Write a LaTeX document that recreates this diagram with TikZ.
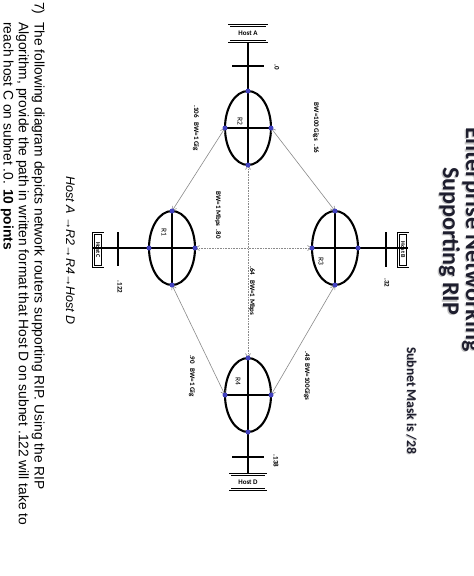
\documentclass[tikz,border=0pt]{standalone}
\usepackage{fontspec}
\setmainfont{Liberation Sans}
\newfontfamily\calfont{Carlito}
\usetikzlibrary{shapes.geometric,arrows.meta}
\definecolor{dotblue}{HTML}{4343C0}
\definecolor{linkgray}{HTML}{8A8A8A}
\definecolor{titlecol}{HTML}{1E1E2E}
\begin{document}
\begin{tikzpicture}[x=1pt,y=-1pt,
  router/.style={ellipse, draw, line width=2.1pt, minimum width=46pt, minimum height=74pt, inner sep=0pt, outer sep=0pt},
  xline/.style={line width=1.5pt},
  dot/.style={circle, fill=dotblue, inner sep=0pt, minimum size=5pt},
  link/.style={draw=linkgray, line width=0.6pt, {Straight Barb[length=4pt,width=5pt]}-{Straight Barb[length=4pt,width=5pt]}},
  dlink/.style={link, densely dotted},
  lbl/.style={font=\calfont\bfseries\fontsize{7}{8}\selectfont, rotate=-90, inner sep=0pt},
  rlbl/.style={font=\calfont\fontsize{7.5}{8}\selectfont, rotate=-90, inner sep=0pt},
  host/.style={draw, double, double distance=1.5pt, line width=0.7pt, inner sep=0pt, font=\calfont\bfseries\fontsize{7}{8}\selectfont},
  bar/.style={line width=2.6pt},
  wire/.style={line width=1.1pt},
  qtext/.style={font=\fontsize{13.8}{15.5}\selectfont, rotate=-90, inner sep=0pt, anchor=base west},
  titletext/.style={font=\calfont\bfseries\fontsize{24}{26}\selectfont, rotate=-90, inner sep=0pt, anchor=base west},
]
\useasboundingbox (0,0) rectangle (474,576);
\fill[white] (0,0) rectangle (474,576);

% title (cut off at the right edge)
\begin{scope}
\clip (0,0) rectangle (474,576);
\node[titletext, text=gray!45] (t1s) at (464.8,128.2) {Enterprise Networking};
\node[titletext, text=titlecol] (t1) at (466,127) {Enterprise Networking};
\node[titletext, text=gray!45] (t2s) at (441.8,168.2) {Supporting RIP};
\node[titletext, text=titlecol] (t2) at (443,167) {Supporting RIP};
\end{scope}
\node[font=\calfont\bfseries\fontsize{13.5}{15}\selectfont, rotate=-90, anchor=base west, inner sep=0pt, text=gray!45] (subs) at (406.3,347.7) {Subnet Mask is /28};
\node[font=\calfont\bfseries\fontsize{13.5}{15}\selectfont, rotate=-90, anchor=base west, inner sep=0pt, text=titlecol] (sub) at (407,347) {Subnet Mask is /28};

% routers
\node[router] (R2) at (248,128) {};
\node[router] (R1) at (172,248) {};
\node[router] (R3) at (335,248) {};
\node[router] (R4) at (248,395) {};

% hosts
\node[host, minimum width=38pt, minimum height=16pt] (HA) at (248,33.5) {Host A};
\node[host, minimum width=36pt, minimum height=15pt] (HD) at (248,482) {Host D};
\node[host, rotate=-90, minimum width=33pt, minimum height=9.5pt, font=\calfont\bfseries\fontsize{6}{7}\selectfont] (HB) at (403,250) {Host B};
\node[host, rotate=-90, minimum width=33pt, minimum height=9.5pt, font=\calfont\bfseries\fontsize{6}{7}\selectfont] (HC) at (98,250) {Host C};

% wires to hosts
\draw[wire] (HA) -- (R2.north);
\draw[wire] (R4.south) -- (HD);
\draw[wire] (R3.east) -- (R3.east -| HB.north);
\draw[wire] (R1.west) -- (R1.west -| HC.south);

% bars
\draw[bar] (232,66) -- (264,66);
\draw[bar] (232,457) -- (264,457);
\draw[bar] (386,232) -- (386,267);
\draw[bar] (118,232) -- (118,266);

% cross lines in routers
\foreach \r in {R1,R2,R3,R4}{
  \draw[xline] (\r.north) -- (\r.south);
  \draw[xline] (\r.west) -- (\r.east);
}

% links
\draw[link] (R2.east) -- (R3.north);
\draw[link] (R2.west) -- (R1.north);
\draw[link] (R1.south) -- (R4.west);
\draw[link] (R3.south) -- (R4.east);
\draw[dlink] (R2.south) -- (R4.north);
\draw[dlink] (R1.east) -- (R3.west);

% dots
\foreach \r in {R1,R2,R3,R4}{
  \foreach \a in {north,south,east,west}{
    \node[dot] (\r\a) at (\r.\a) {};
  }
}

% router labels
\node[rlbl] (R2l) at (240,121) {R2};
\node[rlbl] (R1l) at (164,232) {R1};
\node[rlbl] (R3l) at (321,261) {R3};
\node[rlbl] (R4l) at (238,381) {R4};

% subnet labels
\node[lbl] (l0) at (277,67) {.0};
\node[lbl] (l138) at (276,461) {.138};
\node[lbl] (l32) at (387,283) {.32};
\node[lbl] (l122) at (120,287) {.122};

% link labels
\node[lbl] (l106) at (196,128) {.106~~~BW=1 Gig};
\node[lbl] (l16) at (316,128) {BW=100 Gigs~~.16};
\node[lbl] (l80) at (218,215) {BW=1 Mbps~~.80};
\node[lbl] (l64) at (252,291) {.64~~~BW=1 Mbps};
\node[lbl] (l90) at (192,376) {.90~~~BW=1 Gig};
\node[lbl] (l48) at (307,376) {.48~~BW=100Gigs};

% question text
\node[qtext] (q7) at (34.5,2) {7)};
\node[qtext] (q1) at (34.5,22) {The following diagram depicts network routers supporting RIP. Using the RIP};
\node[qtext] (q2) at (19,22) {Algorithm, provide the path in written format that Host D on subnet .122 will take to};
\node[qtext] (q3) at (3.5,22) {reach host C on subnet .0. \textbf{10 points}};
\node[qtext, font=\itshape\fontsize{12.5}{14}\selectfont] (ans) at (66,176) {Host A →R2→R4→Host D};
\end{tikzpicture}
\end{document}
